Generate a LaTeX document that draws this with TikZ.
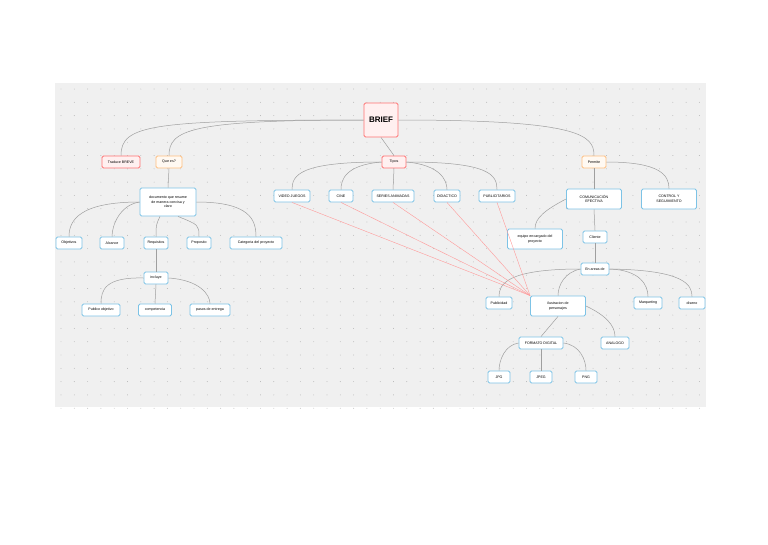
\documentclass[tikz,border=0pt]{standalone}
\usepackage{fontspec}
\setmainfont{Liberation Sans}
\definecolor{bbl}{RGB}{125,195,230}
\begin{document}
\begin{tikzpicture}[x=1pt,y=-1pt,
  box/.style={draw=bbl,fill=white,line width=0.9pt,rounded corners=1.5pt,font=\fontsize{3.6}{4.6}\selectfont,align=center,inner sep=1pt,minimum height=12pt},
  redbox/.style={box,draw=red!55,fill=red!6},
  orbox/.style={box,draw=orange!50,fill=orange!5},
  con/.style={draw=gray!75,line width=0.5pt},
  rcon/.style={draw=red!40,line width=0.4pt}]
\useasboundingbox (0,0) rectangle (768,544);
\fill[gray!12] (55,83) rectangle (706,407);
\foreach \i in {0,...,48}{\foreach \j in {0,...,24}{
  \fill[gray!60] (61+13.3*\i,89+13.3*\j) circle (0.45);}}
\node[redbox,minimum width=34pt,minimum height=34pt,font=\bfseries\fontsize{8}{9}\selectfont] (brief) at (381,120) {BRIEF};
\node[redbox,minimum width=38pt] (trad) at (121,162) {Traduce BREVE};
\node[orbox,minimum width=26pt] (que) at (169,162) {Que es?};
\node[box,minimum width=56pt,minimum height=28pt] (doc) at (168,202) {documento que resume\\de manera concisa y\\claro};
\node[box,minimum width=26pt] (obj) at (69,243) {Objetivos};
\node[box,minimum width=24pt] (alc) at (112,243) {Alcance};
\node[box,minimum width=24pt] (req) at (156,243) {Requisitos};
\node[box,minimum width=24pt] (pro) at (199,243) {Proposito};
\node[box,minimum width=52pt] (cat) at (256,243) {Categoria del proyecto};
\node[box,minimum width=24pt] (inc) at (156,278) {incluye};
\node[box,minimum width=38pt] (pub) at (101,310) {Publico objetivo};
\node[box,minimum width=33pt] (com) at (155,310) {competencia};
\node[box,minimum width=40pt] (pas) at (210,310) {pasos de entrega};
\node[redbox,minimum width=24pt] (tip) at (394,162) {Tipos};
\node[box,minimum width=36pt] (vj) at (292,196) {VIDEO JUEGOS};
\node[box,minimum width=24pt] (cin) at (341,196) {CINE};
\node[box,minimum width=42pt] (ser) at (393,196) {SERIES ANIMADAS};
\node[box,minimum width=26pt] (did) at (447,196) {DIDACTICO};
\node[box,minimum width=36pt] (pbt) at (497,196) {PUBLICITARIOS};
\node[orbox,minimum width=24pt] (per) at (594,162) {Permite};
\node[box,minimum width=55pt,minimum height=20pt] (ce) at (594,199) {COMUNICACIÓN\\EFECTIVA};
\node[box,minimum width=55pt,minimum height=20pt] (cs) at (669,199) {CONTROL Y\\SEGUIMIENTO};
\node[box,minimum width=55pt,minimum height=20pt] (eq) at (535,239) {equipo encargado del\\proyecto};
\node[box,minimum width=24pt] (cli) at (595,237) {Cliente};
\node[box,minimum width=28pt] (ea) at (595,269) {En areas de};
\node[box,minimum width=26pt] (pbl) at (499,303) {Publicidad};
\node[box,minimum width=55pt,minimum height=20pt] (il) at (558,306) {ilustracion de\\personajes};
\node[box,minimum width=28pt] (mq) at (648,303) {Marqueting};
\node[box,minimum width=26pt] (dis) at (692,303) {diseno};
\node[box,minimum width=44pt] (fd) at (541,343) {FORMATO DIGITAL};
\node[box,minimum width=28pt] (an) at (615,343) {ANALOGO};
\node[box,minimum width=22pt] (jpg) at (499,377) {JPG};
\node[box,minimum width=22pt] (jpeg) at (541,377) {JPEG};
\node[box,minimum width=22pt] (png) at (586,377) {PNG};
% connectors
\draw[con] (brief.west) .. controls (150,120) and (121,125) .. (trad.north);
\draw[con] (brief.west) .. controls (190,120) and (169,130) .. (que.north);
\draw[con] (brief.south) -- (tip.north);
\draw[con] (brief.east) .. controls (580,120) and (594,135) .. (per.north);
\draw[con] (que.south) -- (doc.north);
\draw[con] (doc.west) .. controls (80,202) and (69,220) .. (obj.north);
\draw[con] (doc.west) .. controls (120,205) and (112,225) .. (alc.north);
\draw[con] (doc.south) ++(-8,0) .. controls (156,225) .. (req.north);
\draw[con] (doc.south) ++(10,0) .. controls (199,225) .. (pro.north);
\draw[con] (doc.east) .. controls (250,202) and (256,220) .. (cat.north);
\draw[con] (req.south) -- (inc.north);
\draw[con] (inc.west) .. controls (105,277) and (101,290) .. (pub.north);
\draw[con] (inc.south) -- (com.north);
\draw[con] (inc.east) .. controls (200,280) and (210,295) .. (pas.north);
\draw[con] (tip.west) .. controls (300,162) and (292,175) .. (vj.north);
\draw[con] (tip.west) .. controls (345,165) and (341,180) .. (cin.north);
\draw[con] (tip.south) -- (ser.north);
\draw[con] (tip.east) .. controls (440,165) and (447,180) .. (did.north);
\draw[con] (tip.east) .. controls (490,162) and (497,175) .. (pbt.north);
\draw[con] (per.south) -- (ce.north);
\draw[con] (per.east) .. controls (660,162) and (669,175) .. (cs.north);
\draw[con] (ce.west) .. controls (545,210) and (535,218) .. (eq.north);
\draw[con] (ce.south) -- (cli.north);
\draw[con] (cli.south) -- (ea.north);
\draw[con] (ea.west) .. controls (505,269) and (499,285) .. (pbl.north);
\draw[con] (ea.west) .. controls (565,272) and (558,285) .. (il.north);
\draw[con] (ea.east) .. controls (640,270) and (648,285) .. (mq.north);
\draw[con] (ea.east) .. controls (685,270) and (692,285) .. (dis.north);
\draw[con] (il.south) -- (fd.north);
\draw[con] (il.east) .. controls (605,315) and (615,325) .. (an.north);
\draw[con] (fd.west) .. controls (505,345) and (499,360) .. (jpg.north);
\draw[con] (fd.south) -- (jpeg.north);
\draw[con] (fd.east) .. controls (580,345) and (586,360) .. (png.north);
\foreach \n in {vj,cin,ser,did,pbt}{\draw[rcon] (\n.south) -- (il.north west);}
\end{tikzpicture}
\end{document}
